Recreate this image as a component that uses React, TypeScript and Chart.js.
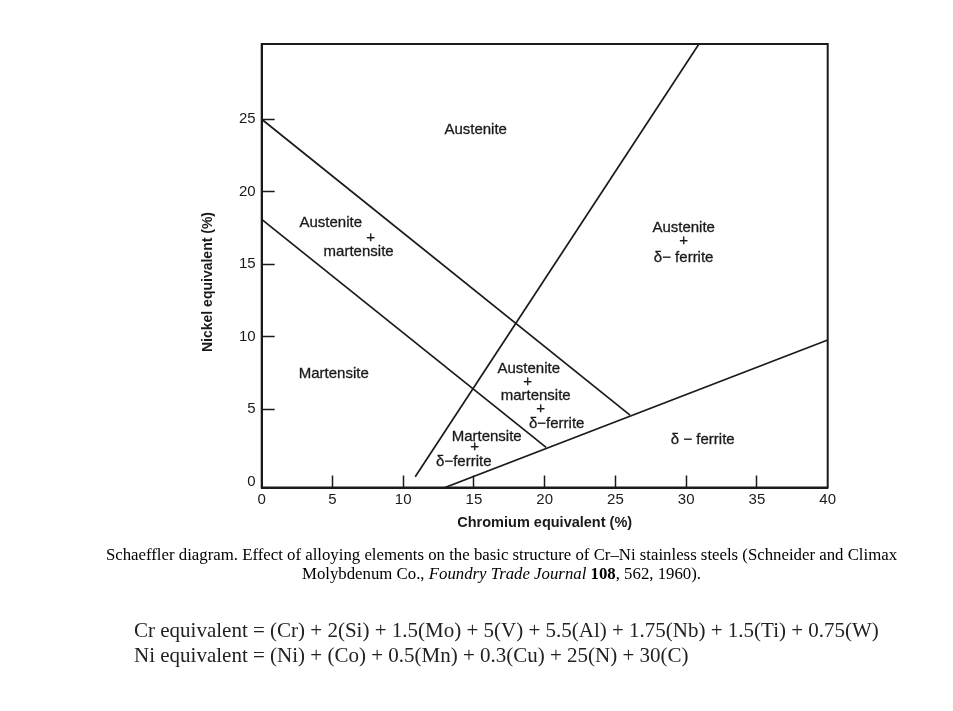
import { useEffect, useRef } from "react"
import { Chart, registerables, type ChartConfiguration, type Plugin } from "chart.js"

Chart.register(...registerables)

// phase boundaries, [Cr equivalent, Ni equivalent]
const austeniteBoundary = [[0, 25], [26.03, 4.6]]
const martensiteBoundary = [[0, 18.1], [20.1, 2.38]]
const ferriteStartBoundary = [[10.85, 0.35], [30.9, 30.19]]
const ferriteEndBoundary = [[12.95, -0.39], [40, 9.78]]

const xTicks = [0, 5, 10, 15, 20, 25, 30, 35, 40]
const yTicks = [0, 5, 10, 15, 20, 25]

// region labels, [text, Cr, Ni]
const regionLabels: [string, number, number][] = [
  ["Austenite", 15.12, 24.26],
  ["Austenite", 4.88, 17.85],
  ["+", 7.7, 16.81],
  ["martensite", 6.85, 15.85],
  ["Martensite", 5.09, 7.43],
  ["Austenite", 29.82, 17.5],
  ["+", 29.82, 16.6],
  ["δ− ferrite", 29.82, 15.43],
  ["Austenite", 18.87, 7.78],
  ["+", 18.8, 6.88],
  ["martensite", 19.36, 5.92],
  ["+", 19.72, 5.02],
  ["δ−ferrite", 20.85, 3.99],
  ["Martensite", 15.9, 3.09],
  ["+", 15.05, 2.4],
  ["δ−ferrite", 14.28, 1.36],
  ["δ − ferrite", 31.17, 2.88],
]

const ink = "#1a1a1a"
const sansFont = "'Liberation Sans', Arial, sans-serif"

const lineDataset = (points: number[][]) => ({
  data: points.map(([x, y]) => ({ x, y })),
  showLine: true,
  borderColor: ink,
  borderWidth: 1.7,
  pointRadius: 0,
  fill: false,
})

// the original has no tick marks where a tick falls on the frame
const tickColor = (ctx: any) =>
  ctx.tick && (ctx.tick.value === 0 || ctx.tick.value === 40) ? "rgba(0,0,0,0)" : ink

const diagramPlugin: Plugin<"scatter"> = {
  id: "diagram",
  afterDraw(chart) {
    const { ctx, chartArea, scales } = chart
    ctx.save()
    ctx.strokeStyle = ink
    ctx.lineWidth = 2
    ctx.strokeRect(chartArea.left, chartArea.top, chartArea.width, chartArea.height)

    ctx.fillStyle = ink
    ctx.font = `15px ${sansFont}`
    ctx.textAlign = "center"
    ctx.textBaseline = "middle"
    ctx.lineWidth = 0.3
    regionLabels.forEach(([text, x, y]) => {
      const px = scales.x.getPixelForValue(x)
      const py = scales.y.getPixelForValue(y)
      ctx.fillText(text, px, py)
      ctx.strokeText(text, px, py)
    })

    // y title sits below the middle of the axis in the original
    ctx.translate(208, scales.y.getPixelForValue(13.78))
    ctx.rotate(-Math.PI / 2)
    ctx.font = `bold 14px ${sansFont}`
    ctx.fillText("Nickel equivalent (%)", 0, 0)
    ctx.restore()
  },
}

function SchaefflerChart() {
  const canvasRef = useRef<HTMLCanvasElement | null>(null)

  useEffect(() => {
    if (!canvasRef.current) return

    const config: ChartConfiguration<"scatter"> = {
      type: "scatter",
      data: {
        datasets: [
          lineDataset(austeniteBoundary),
          lineDataset(martensiteBoundary),
          lineDataset(ferriteStartBoundary),
          lineDataset(ferriteEndBoundary),
        ],
      },
      options: {
        animation: false,
        responsive: false,
        layout: { padding: { left: 190, top: 44, right: 125.3, bottom: 176 } },
        plugins: { legend: { display: false }, tooltip: { enabled: false } },
        scales: {
          x: {
            type: "linear",
            min: 0,
            max: 40,
            afterFit: (scale) => {
              scale.height = 47.5
            },
            afterBuildTicks: (scale) => {
              scale.ticks = xTicks.map((value) => ({ value }))
            },
            grid: { drawOnChartArea: false, tickLength: -12, tickWidth: 1.5, tickColor },
            border: { color: ink, width: 2 },
            ticks: {
              color: ink,
              font: { family: sansFont, size: 15 },
              padding: 15,
              maxRotation: 0,
              autoSkip: false,
            },
            title: {
              display: true,
              text: "Chromium equivalent (%)",
              color: ink,
              font: { family: sansFont, size: 14.5, weight: "bold" },
              padding: { top: 0, bottom: 3 },
            },
          },
          y: {
            type: "linear",
            min: -0.39,
            max: 30.19,
            afterFit: (scale) => {
              scale.width = 71.7
            },
            afterBuildTicks: (scale) => {
              scale.ticks = yTicks.map((value) => ({ value }))
            },
            grid: { drawOnChartArea: false, tickLength: -13, tickWidth: 1.5, tickColor },
            border: { color: ink, width: 2 },
            ticks: {
              color: ink,
              font: { family: sansFont, size: 15 },
              padding: 19,
              autoSkip: false,
            },
          },
        },
      },
      plugins: [diagramPlugin],
    }

    const chart = new Chart(canvasRef.current, config)
    return () => chart.destroy()
  }, [])

  return <canvas ref={canvasRef} width={953} height={711} style={{ display: "block" }} />
}

const serif = "'Liberation Serif', 'Times New Roman', serif"

export default function App() {
  return (
    <div style={{ position: "absolute", left: 0, top: 0, width: 953, height: 711, background: "#fff" }}>
      <SchaefflerChart />
      <div
        style={{
          position: "absolute",
          left: 0,
          top: 545,
          width: 1003,
          textAlign: "center",
          fontFamily: serif,
          fontSize: 16.8,
          lineHeight: "19px",
          color: "#000",
          whiteSpace: "nowrap",
        }}
      >
        Schaeffler diagram. Effect of alloying elements on the basic structure of Cr–Ni stainless steels (Schneider and Climax
        <br />
        Molybdenum Co., <i>Foundry Trade Journal</i> <b>108</b>, 562, 1960).
      </div>
      <div
        style={{
          position: "absolute",
          left: 134,
          top: 618,
          fontFamily: serif,
          fontSize: 21,
          lineHeight: "25px",
          color: "#222",
          whiteSpace: "nowrap",
        }}
      >
        Cr equivalent = (Cr) + 2(Si) + 1.5(Mo) + 5(V) + 5.5(Al) + 1.75(Nb) + 1.5(Ti) + 0.75(W)
        <br />
        Ni equivalent = (Ni) + (Co) + 0.5(Mn) + 0.3(Cu) + 25(N) + 30(C)
      </div>
    </div>
  )
}
